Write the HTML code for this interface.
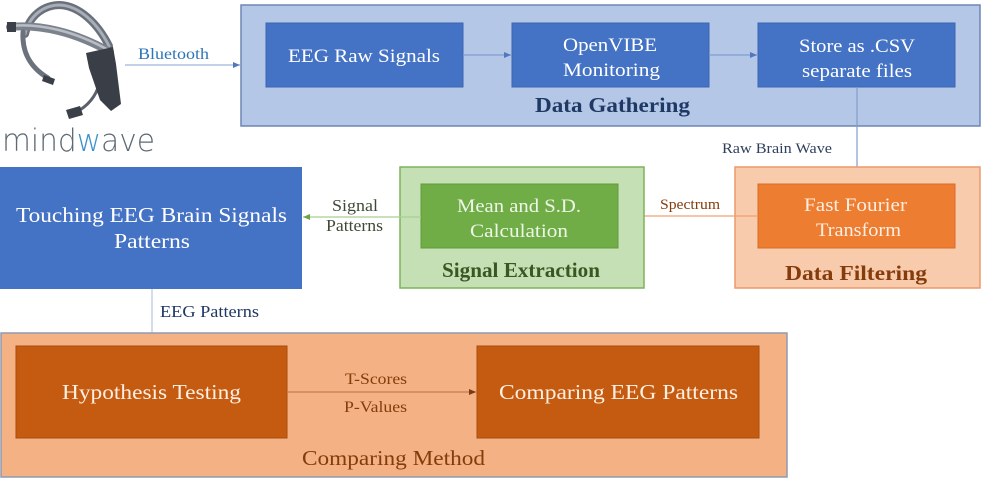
<!DOCTYPE html>
<html><head><meta charset="utf-8"><style>
html,body{margin:0;padding:0;background:#fff;}
svg{display:block;}
.s text{font-family:"Liberation Serif","DejaVu Serif","Noto Serif CJK SC",serif;}
</style></head><body>
<svg width="983" height="483" viewBox="0 0 983 483" xmlns="http://www.w3.org/2000/svg">
<defs>
<marker id="aB" markerWidth="8" markerHeight="8" refX="7" refY="4" orient="auto" markerUnits="userSpaceOnUse"><path d="M0,1 L7,4 L0,7 Z" fill="#4f78bd"/></marker>
<marker id="aO" markerWidth="8" markerHeight="8" refX="7" refY="4" orient="auto" markerUnits="userSpaceOnUse"><path d="M0,1 L7,4 L0,7 Z" fill="#e9803f"/></marker>
<marker id="aG" markerWidth="8" markerHeight="8" refX="7" refY="4" orient="auto" markerUnits="userSpaceOnUse"><path d="M0,1 L7,4 L0,7 Z" fill="#6ea34a"/></marker>
<marker id="aR" markerWidth="8" markerHeight="8" refX="7" refY="4" orient="auto" markerUnits="userSpaceOnUse"><path d="M0,1 L7,4 L0,7 Z" fill="#7a3a14"/></marker>
</defs>

<!-- Headset -->
<g fill="none" stroke-linecap="round">
  <path d="M25,34 C30,14 45,5 60,5 C80,6 98,24 109,46" stroke="#6b717b" stroke-width="8"/>
  <path d="M25,34 C30,14 45,5 60,5 C80,6 98,24 109,46" stroke="#a8aeb7" stroke-width="3"/>
  <path d="M10,27 C40,24 75,32 110,52" stroke="#7c828c" stroke-width="8"/>
  <path d="M10,26 C40,23 75,31 110,51" stroke="#b9bec6" stroke-width="2.5"/>
  <path d="M23,32 C22,50 28,66 48,78" stroke="#6c727c" stroke-width="5"/>
  <path d="M100,80 C98,92 92,102 80,110" stroke="#5b606a" stroke-width="3"/>
</g>
<path d="M7,22 L16,22 L16,32 L7,32 Z" fill="#3b3f47"/>
<path d="M44,75 L55,79 L53,85 L42,81 Z" fill="#3b3f47"/>
<path d="M86,53 L113,47 L116,64 L121,104 L111,111 L100,100 L89,68 Z" fill="#3a3e47"/>
<path d="M66,110 L80,106 L83,115 L69,119 Z" fill="#3b3f47"/>
<text x="2" y="151" font-family="DejaVu Sans, sans-serif" font-size="31" font-weight="200" fill="#5d6973" textLength="153" lengthAdjust="spacingAndGlyphs">mind<tspan fill="#3b92cc">w</tspan>ave</text>

<g class="s" font-family="Liberation Serif, DejaVu Serif, serif" style="font-family:'Liberation Serif','DejaVu Serif','Noto Serif CJK SC',serif">
<!-- Bluetooth connector -->
<line x1="125" y1="65" x2="240" y2="65" stroke="#9db3da" stroke-width="1.3" marker-end="url(#aB)"/>
<text x="138" y="59" font-size="16" fill="#2e75b6" textLength="71" lengthAdjust="spacingAndGlyphs">Bluetooth</text>

<!-- Data Gathering -->
<rect x="241" y="5" width="739" height="121" fill="#b4c7e7" stroke="#6d86b5" stroke-width="1.5"/>
<rect x="266" y="23" width="197" height="64" fill="#4472c4" stroke="#3e66b0"/>
<rect x="512" y="23" width="197" height="64" fill="#4472c4" stroke="#3e66b0"/>
<rect x="758" y="23" width="197" height="64" fill="#4472c4" stroke="#3e66b0"/>
<line x1="463" y1="55" x2="511" y2="55" stroke="#7f9ccf" stroke-width="1.2" marker-end="url(#aB)"/>
<line x1="709" y1="55" x2="757" y2="55" stroke="#7f9ccf" stroke-width="1.2" marker-end="url(#aB)"/>
<text x="288" y="62" font-size="19" fill="#fff" textLength="152" lengthAdjust="spacingAndGlyphs">EEG Raw Signals</text>
<text x="563" y="51" font-size="19" fill="#fff" textLength="94" lengthAdjust="spacingAndGlyphs">OpenVIBE</text>
<text x="563" y="76" font-size="19" fill="#fff" textLength="97" lengthAdjust="spacingAndGlyphs">Monitoring</text>
<text x="799" y="52" font-size="19" fill="#fff" textLength="116" lengthAdjust="spacingAndGlyphs">Store as .CSV</text>
<text x="802" y="77" font-size="19" fill="#fff" textLength="110" lengthAdjust="spacingAndGlyphs">separate files</text>
<text x="535" y="112" font-size="21" font-weight="bold" fill="#1f3864" textLength="155" lengthAdjust="spacingAndGlyphs">Data Gathering</text>

<!-- Raw Brain Wave -->
<line x1="857" y1="87" x2="857" y2="183" stroke="#7f9ccf" stroke-width="1.2" marker-end="url(#aB)"/>
<text x="722" y="153" font-size="15" fill="#2f3f5e" textLength="110" lengthAdjust="spacingAndGlyphs">Raw Brain Wave</text>

<!-- Data Filtering -->
<rect x="735" y="167" width="245" height="121" fill="#f8cbad" stroke="#eb9a6c" stroke-width="1.5"/>
<rect x="758" y="184" width="197" height="64" fill="#ed7d31" stroke="#d86d25"/>
<text x="804" y="211" font-size="19" fill="#fdeee2" textLength="103" lengthAdjust="spacingAndGlyphs">Fast Fourier</text>
<text x="816" y="236" font-size="19" fill="#fdeee2" textLength="85" lengthAdjust="spacingAndGlyphs">Transform</text>
<text x="785" y="280" font-size="21" font-weight="bold" fill="#843c0c" textLength="142" lengthAdjust="spacingAndGlyphs">Data Filtering</text>

<!-- Spectrum -->
<line x1="758" y1="216" x2="619" y2="216" stroke="#f0a070" stroke-width="1.2" marker-end="url(#aO)"/>
<text x="660" y="209" font-size="14.5" fill="#843c0c" textLength="60" lengthAdjust="spacingAndGlyphs">Spectrum</text>

<!-- Signal Extraction -->
<rect x="400" y="167" width="244" height="121" fill="#c5e0b4" stroke="#7fb35a" stroke-width="1.5"/>
<rect x="421" y="184" width="197" height="64" fill="#70ad47" stroke="#629a3d"/>
<text x="457" y="212" font-size="19" fill="#eef6e8" textLength="124" lengthAdjust="spacingAndGlyphs">Mean and S.D.</text>
<text x="470" y="237" font-size="19" fill="#eef6e8" textLength="98" lengthAdjust="spacingAndGlyphs">Calculation</text>
<text x="442" y="277" font-size="21" font-weight="bold" fill="#385723" textLength="158" lengthAdjust="spacingAndGlyphs">Signal Extraction</text>

<!-- Signal Patterns -->
<line x1="421" y1="217" x2="303" y2="217" stroke="#a9cf8f" stroke-width="1.2" marker-end="url(#aG)"/>
<text x="332" y="211" font-size="17" fill="#3e4a36" textLength="46" lengthAdjust="spacingAndGlyphs">Signal</text>
<text x="326" y="231" font-size="17" fill="#3e4a36" textLength="57" lengthAdjust="spacingAndGlyphs">Patterns</text>

<!-- Touching -->
<rect x="0" y="167" width="302" height="122" fill="#4472c4"/>
<text x="16" y="222" font-size="21.5" fill="#fff" textLength="271" lengthAdjust="spacingAndGlyphs">Touching EEG Brain Signals</text>
<text x="114" y="248" font-size="21.5" fill="#fff" textLength="76" lengthAdjust="spacingAndGlyphs">Patterns</text>

<!-- EEG Patterns -->
<line x1="152" y1="289" x2="152" y2="345" stroke="#b8c6dd" stroke-width="1.2" marker-end="url(#aB)"/>
<text x="160" y="317" font-size="17" fill="#1f3864" textLength="99" lengthAdjust="spacingAndGlyphs">EEG Patterns</text>

<!-- Comparing Method -->
<rect x="1" y="333" width="786" height="144" fill="#f4b183" stroke="#8e9bb3" stroke-width="1.5"/>
<rect x="16" y="346" width="271" height="92" fill="#c55a11" stroke="#a94d0e"/>
<rect x="477" y="346" width="282" height="92" fill="#c55a11" stroke="#a94d0e"/>
<line x1="287" y1="392" x2="476" y2="392" stroke="#c47a4e" stroke-width="1.2" marker-end="url(#aR)"/>
<text x="345" y="384" font-size="16" fill="#843c0c" textLength="62" lengthAdjust="spacingAndGlyphs">T-Scores</text>
<text x="344" y="412" font-size="16" fill="#843c0c" textLength="63" lengthAdjust="spacingAndGlyphs">P-Values</text>
<text x="62" y="399" font-size="21.5" fill="#fdf0e2" textLength="179" lengthAdjust="spacingAndGlyphs">Hypothesis Testing</text>
<text x="499" y="399" font-size="21.5" fill="#fdf0e2" textLength="239" lengthAdjust="spacingAndGlyphs">Comparing EEG Patterns</text>
<text x="302" y="465" font-size="21.5" fill="#843c0c" textLength="183" lengthAdjust="spacingAndGlyphs">Comparing Method</text>
</g>
</svg>
</body></html>
